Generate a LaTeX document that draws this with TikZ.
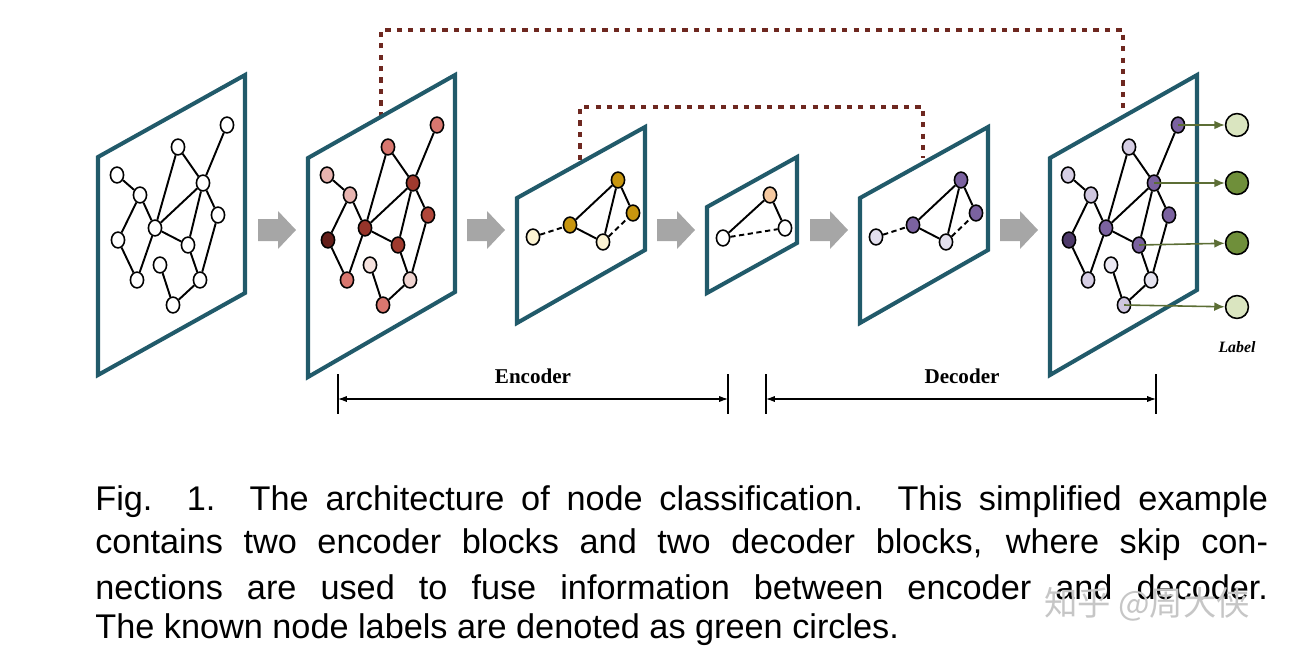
\documentclass[tikz,border=0pt]{standalone}
\usepackage{fontspec}
\setmainfont{Liberation Serif}
\newfontfamily\capfont{Liberation Sans}
\newfontfamily\cjk{Noto Sans CJK SC}
\usetikzlibrary{shapes.geometric,arrows.meta}
\definecolor{frame}{RGB}{33,90,106}
\definecolor{skip}{RGB}{110,40,32}
\definecolor{flow}{RGB}{166,166,166}
\definecolor{lab}{RGB}{92,110,53}
\definecolor{lgreen}{RGB}{218,229,192}
\definecolor{dgreen}{RGB}{111,143,58}
\definecolor{gold}{RGB}{200,150,15}
\definecolor{cream}{RGB}{252,243,210}
\definecolor{peach}{RGB}{246,201,160}
\definecolor{violet}{RGB}{123,98,160}
\definecolor{lilac}{RGB}{226,223,237}
%% default node colours of the big graph
\colorlet{cA}{white}\colorlet{cB}{white}\colorlet{cC}{white}\colorlet{cD}{white}
\colorlet{cE}{white}\colorlet{cF}{white}\colorlet{cG}{white}\colorlet{cH}{white}
\colorlet{cI}{white}\colorlet{cJ}{white}\colorlet{cK}{white}\colorlet{cL}{white}
\colorlet{cM}{white}
\tikzset{
  panel/.style={draw=frame,line width=2.3pt,line join=miter},
  gn/.style={ellipse,draw=black,line width=0.9pt,fill=#1,inner sep=0pt,
    minimum width=7.5pt,minimum height=9pt},
  ge/.style={line width=1.1pt},
  gd/.style={line width=1.1pt,densely dashed},
  skipline/.style={draw=skip,line width=2.4pt,dash pattern=on 3pt off 3.5pt},
  lbl/.style={circle,draw=black,line width=0.9pt,fill=#1,inner sep=0pt,minimum size=13pt},
  bracket/.style={line width=0.6pt},
}
%% big graph, colours cA..cM
\newcommand\biggraph[1]{%
  \node[gn=cA] (#1a) at (117,175) {};
  \node[gn=cB] (#1b) at (140,195) {};
  \node[gn=cC] (#1c) at (178,147) {};
  \node[gn=cD] (#1d) at (227,125) {};
  \node[gn=cE] (#1e) at (203,183) {};
  \node[gn=cF] (#1f) at (155,228) {};
  \node[gn=cG] (#1g) at (118,240) {};
  \node[gn=cH] (#1h) at (218,215) {};
  \node[gn=cI] (#1i) at (188,245) {};
  \node[gn=cJ] (#1j) at (137,280) {};
  \node[gn=cK] (#1k) at (160,265) {};
  \node[gn=cL] (#1l) at (200,280) {};
  \node[gn=cM] (#1m) at (173,305) {};
  \foreach \u/\v in {a/b,b/f,b/g,g/j,j/f,f/c,f/e,f/i,c/e,e/d,e/i,e/h,h/l,i/l,l/m,m/k}
    {\draw[ge] (#1\u) -- (#1\v);}
}
%% grey flow arrow
\newcommand\flowarrow[1]{%
  \fill[flow] (#1,219) -- ++(20,0) -- ++(0,-8) -- ++(18,19) -- ++(-18,19)
    -- ++(0,-8) -- ++(-20,0) -- cycle;
}
\begin{document}
\begin{tikzpicture}[x=0.02cm,y=-0.02cm]
  \useasboundingbox (0,0) rectangle (1291,660);

  %% skip connections
  \coordinate (s1a) at (381,117); \coordinate (s1b) at (1123,110);
  \coordinate (s2a) at (580,160); \coordinate (s2b) at (923,158);
  \draw[skipline] (s1a) |- (752,30) -| (s1b);
  \draw[skipline] (s2a) |- (752,107) -| (s2b);

  %% panels
  \draw[panel] (98,157) -- (245,75) -- (245,293) -- (98,375) -- cycle;
  \draw[panel] (308,158) -- (455,75) -- (455,292) -- (308,377) -- cycle;
  \draw[panel] (517,198) -- (645,127) -- (645,250) -- (517,323) -- cycle;
  \draw[panel] (707,207) -- (797,157) -- (797,243) -- (707,293) -- cycle;
  \draw[panel] (860,198) -- (988,127) -- (988,250) -- (860,323) -- cycle;
  \draw[panel] (1050,158) -- (1197,75) -- (1197,290) -- (1050,375) -- cycle;

  %% flow arrows
  \foreach \x in {258,467,657,810,1000} {\flowarrow{\x}}

  %% input graph
  \biggraph{p}

  %% encoder 1
  \begin{scope}[shift={(210,0)}]
    \definecolor{cA}{RGB}{232,180,176}\definecolor{cB}{RGB}{232,180,176}
    \definecolor{cC}{RGB}{217,119,111}\definecolor{cD}{RGB}{217,119,111}
    \definecolor{cE}{RGB}{160,58,46}\definecolor{cF}{RGB}{150,52,42}
    \definecolor{cG}{RGB}{100,30,26}\definecolor{cH}{RGB}{176,70,58}
    \definecolor{cI}{RGB}{160,58,46}\definecolor{cJ}{RGB}{217,119,111}
    \definecolor{cK}{RGB}{246,226,222}\definecolor{cL}{RGB}{240,212,208}
    \definecolor{cM}{RGB}{217,119,111}
    \biggraph{q}
  \end{scope}

  %% encoder 2
  \node[gn=cream] (ra) at (533,237) {};
  \node[gn=gold] (rb) at (570,225) {};
  \node[gn=gold] (rc) at (618,180) {};
  \node[gn=gold] (rd) at (633,213) {};
  \node[gn=cream] (re) at (603,242) {};
  \draw[gd] (ra) -- (rb); \draw[ge] (rb) -- (rc); \draw[ge] (rb) -- (re);
  \draw[ge] (rc) -- (re); \draw[ge] (rc) -- (rd); \draw[gd] (re) -- (rd);

  %% bottleneck
  \node[gn=peach] (ua) at (770,195) {};
  \node[gn=white] (ub) at (723,238) {};
  \node[gn=white] (uc) at (785,228) {};
  \draw[ge] (ua) -- (ub); \draw[ge] (ua) -- (uc); \draw[gd] (ub) -- (uc);

  %% decoder 1
  \node[gn=lilac] (ta) at (876,237) {};
  \node[gn=violet] (tb) at (913,225) {};
  \node[gn=violet] (tc) at (961,180) {};
  \node[gn=violet] (td) at (976,213) {};
  \node[gn=lilac] (te) at (946,242) {};
  \draw[gd] (ta) -- (tb); \draw[ge] (tb) -- (tc); \draw[ge] (tb) -- (te);
  \draw[ge] (tc) -- (te); \draw[ge] (tc) -- (td); \draw[gd] (te) -- (td);

  %% decoder 2
  \begin{scope}[shift={(951,0)}]
    \definecolor{cA}{RGB}{214,206,228}\definecolor{cB}{RGB}{207,198,223}
    \definecolor{cC}{RGB}{214,206,228}\definecolor{cD}{RGB}{123,98,160}
    \definecolor{cE}{RGB}{123,98,160}\definecolor{cF}{RGB}{123,98,160}
    \definecolor{cG}{RGB}{78,58,106}\definecolor{cH}{RGB}{123,98,160}
    \definecolor{cI}{RGB}{123,98,160}\definecolor{cJ}{RGB}{214,206,228}
    \definecolor{cK}{RGB}{236,233,243}\definecolor{cL}{RGB}{230,228,240}
    \definecolor{cM}{RGB}{207,198,223}
    \biggraph{d}
  \end{scope}

  %% labels
  \node[lbl=lgreen] (l1) at (1237,125) {};
  \node[lbl=dgreen] (l2) at (1237,183) {};
  \node[lbl=dgreen] (l3) at (1237,243) {};
  \node[lbl=lgreen] (l4) at (1237,307) {};
  \foreach \s/\t in {dd/l1,de/l2,di/l3,dm/l4}
    {\draw[draw=lab,line width=0.9pt,-{Latex[length=6pt,width=5pt]}] (\s.center) -- (\t);}
  \node[font=\bfseries\itshape\small] (lb) at (1237,347) {Label};

  %% encoder / decoder spans
  \coordinate (e0) at (338,399); \coordinate (e1) at (728,399);
  \coordinate (d0) at (766,399); \coordinate (d1) at (1156,399);
  \foreach \c in {e0,e1,d0,d1} {\draw[bracket] ([yshift=0.5cm]\c) -- ([yshift=-0.3cm]\c);}
  \draw[bracket,{Latex[length=5pt,width=3.5pt]}-{Latex[length=5pt,width=3.5pt]}] (e0) -- (e1);
  \draw[bracket,{Latex[length=5pt,width=3.5pt]}-{Latex[length=5pt,width=3.5pt]}] (d0) -- (d1);
  \node[font=\bfseries\large] (enc) at (533,376) {Encoder};
  \node[font=\bfseries\large] (dec) at (962,376) {Decoder};

  %% caption
  \begin{scope}[every node/.style={anchor=west,inner sep=0pt,font=\capfont\fontsize{19.5}{23}\selectfont}]
    \node (c1) at (95,502) {\makebox[23.46cm][s]{Fig. 1. The architecture of node classification. This simplified example}};
    \node (c2) at (95,545) {\makebox[23.46cm][s]{contains two encoder blocks and two decoder blocks, where skip con-}};
    \node (c3) at (95,587) {\makebox[23.46cm][s]{nections are used to fuse information between encoder and decoder.}};
    \node (c4) at (95,630) {The known node labels are denoted as green circles.};
  \end{scope}
  \node[font=\cjk\fontsize{19}{22}\selectfont,text=gray!45] (wm) at (1147,604) {知乎 @周大侠};
\end{tikzpicture}
\end{document}
